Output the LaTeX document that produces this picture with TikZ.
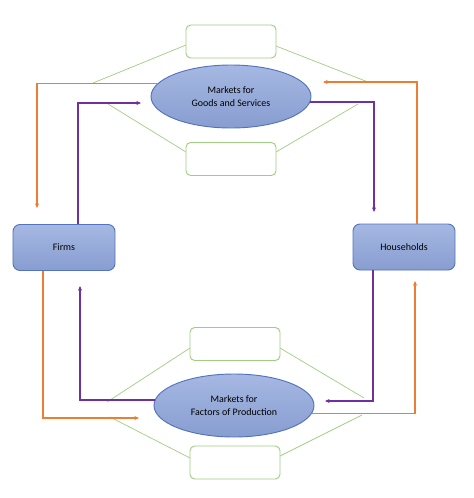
\documentclass[tikz,border=0pt]{standalone}
\usepackage{fontspec}
\setmainfont{Carlito}
\usetikzlibrary{shapes.geometric}
\usetikzlibrary{positioning}
\usetikzlibrary{arrows.meta}

\definecolor{flowblue}{RGB}{143,166,219}
\definecolor{edgeblue}{RGB}{84,115,190}
\definecolor{boxgreen}{RGB}{160,205,130}
\definecolor{moneyorange}{RGB}{237,125,49}
\definecolor{goodspurple}{RGB}{112,48,160}

\begin{document}
\begin{tikzpicture}[
    x=0.03cm, y=-0.03cm,
    agentnode/.style={rectangle, rounded corners=6pt, draw=edgeblue, thick,
        top color=flowblue!80!white, bottom color=flowblue!95!black,
        minimum width=3.06cm, minimum height=1.38cm, font=\fontsize{8.5}{11}\selectfont},
    marketnode/.style={ellipse, draw=edgeblue, thick,
        top color=flowblue!80!white, bottom color=flowblue!95!black,
        minimum width=4.8cm, minimum height=1.89cm, inner sep=0pt, align=center,
        font=\fontsize{8.5}{11.5}\selectfont},
    labelbox/.style={rectangle, rounded corners=4pt, draw=boxgreen, fill=white,
        thick, minimum width=2.7cm, minimum height=0.99cm},
    link/.style={draw=boxgreen, line width=0.6pt},
    moneyflow/.style={draw=moneyorange, line width=1.2pt, -{Stealth[length=4pt,width=3.5pt]}},
    goodsflow/.style={draw=goodspurple, line width=1.2pt, -{Stealth[length=4pt,width=3.5pt]}},
]
    \useasboundingbox (0, 0) rectangle (474, 498);

    % Agents
    \node at (64, 247.5) [agentnode](firms){Firms};
    \node at (404, 247) [agentnode](households){Households};

    % Markets
    \node at (231, 96.5) [marketnode](goods){Markets for\\Goods and Services};
    \node at (234, 405.5) [marketnode](factors){Markets for\\Factors of Production};

    % Green label boxes and their corners
    \coordinate (goods_nw) at (93, 83);
    \coordinate (goods_ne) at (368, 82);
    \coordinate (goods_sw) at (108, 104);
    \coordinate (goods_se) at (358, 104);
    \coordinate (factors_nw) at (107, 402);
    \coordinate (factors_ne) at (364, 398);
    \coordinate (factors_sw) at (110, 417);
    \coordinate (factors_se) at (362, 415);
    \draw [link] (goods_nw) -- (186, 45) (276, 46) -- (goods_ne);
    \draw [link] (goods_sw) -- (186, 152) (276, 152) -- (goods_se);
    \draw [link] (factors_nw) -- (190, 348) (280, 348) -- (factors_ne);
    \draw [link] (factors_sw) -- (190, 458) (280, 456) -- (factors_se);
    \node at (231, 41.5) [labelbox](goods_top){};
    \node at (231, 159) [labelbox](goods_bottom){};
    \node at (235, 344) [labelbox](factors_top){};
    \node at (235, 462.5) [labelbox](factors_bottom){};

    % Arrow ends
    \coordinate (firms_in_top) at (37, 208);
    \coordinate (goods_in_left) at (141, 103);
    \coordinate (goods_in_right) at (323, 82);
    \coordinate (households_in_top) at (374, 212);
    \coordinate (factors_in_left) at (139, 418);
    \coordinate (firms_in_bottom) at (80, 286);
    \coordinate (factors_in_right) at (325, 401);
    \coordinate (households_in_bottom) at (415, 281);

    % Goods and services market
    \draw [moneyflow] (goods.170) -| (firms_in_top);
    \draw [goodsflow] ([xshift=0.42cm]firms.north) |- (goods_in_left);
    \draw [moneyflow] ([xshift=0.39cm]households.north) |- (goods_in_right);
    \draw [goodsflow] (goods.-4) -| (households_in_top);

    % Factor market
    \draw [moneyflow] ([xshift=-0.63cm]firms.south) |- (factors_in_left);
    \draw [goodsflow] (factors.176) -| (firms_in_bottom);
    \draw [goodsflow] ([xshift=-0.93cm]households.south) |- (factors_in_right);
    \draw [moneyflow] (factors.-6) -| (households_in_bottom);

\end{tikzpicture}
\end{document}
